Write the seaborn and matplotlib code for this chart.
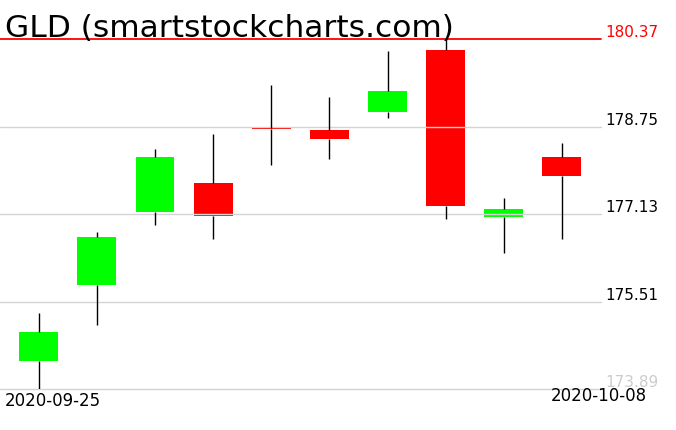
import numpy as np
import pandas as pd
import seaborn as sns
import matplotlib
matplotlib.use("Agg")
import matplotlib.pyplot as plt

# GLD daily candles
dates = ['2020-09-25', '2020-09-28', '2020-09-29', '2020-09-30', '2020-10-01',
         '2020-10-02', '2020-10-05', '2020-10-06', '2020-10-07', '2020-10-08']
opens = [174.40, 175.82, 177.17, 177.71, 178.72, 178.69, 179.01, 180.17, 177.08, 178.19]
highs = [175.30, 176.80, 178.33, 178.61, 179.51, 179.29, 180.15, 180.37, 177.43, 178.45]
lows = [173.89, 175.08, 176.93, 176.66, 178.03, 178.15, 178.90, 177.04, 176.41, 176.66]
closes = [174.94, 176.70, 178.19, 177.09, 178.70, 178.52, 179.41, 177.28, 177.23, 177.84]

price_ticks = [173.89, 175.51, 177.13, 178.75, 180.37]
title = "GLD (smartstockcharts.com)"

df = pd.DataFrame({'date': dates, 'open': opens, 'high': highs,
                   'low': lows, 'close': closes})
df['pos'] = np.arange(len(df))
df['up'] = df['close'] >= df['open']
df['body_lo'] = df[['open', 'close']].min(axis=1)
df['body_hi'] = df[['open', 'close']].max(axis=1)
df['body_h'] = df['body_hi'] - df['body_lo']

sns.set_style("white")
plt.rcParams['font.family'] = ['DejaVu Sans']

fig = plt.figure(figsize=(6.76, 4.31), dpi=100)
ax = fig.add_axes([0, 41 / 431, 600.7 / 676, 350 / 431])

# bodies (grid lines go over them)
colors = np.where(df['up'], '#00ff00', '#ff0000')
ax.bar(df['pos'], df['body_h'], bottom=df['body_lo'], width=0.67,
       color=colors, linewidth=0, zorder=1)

# wicks only outside the body, on top of the grid
ax.vlines(df['pos'], df['body_hi'], df['high'], color='black', lw=1, zorder=3)
ax.vlines(df['pos'], df['low'], df['body_lo'], color='black', lw=1, zorder=3)

ax.set_xlim(-2 / 3, len(df) - 1 + 2 / 3)
ax.set_ylim(price_ticks[0], price_ticks[-1])

# grid + right side price labels
ax.set_yticks(price_ticks)
ax.set_yticklabels([f"{t:.2f}" for t in price_ticks])
ax.yaxis.tick_right()
ax.tick_params(axis='y', length=0, pad=3, labelsize=11, labelcolor='black')
ax.set_xticks([])
ax.yaxis.grid(True, color='#d3d3d3', lw=1)
ax.set_axisbelow(False)
for gl in ax.yaxis.get_gridlines():
    gl.set_clip_on(False)
    gl.set_zorder(2)
top_line = ax.yaxis.get_gridlines()[-1]
top_line.set_color('#ff0000')
top_line.set_linewidth(1.3)
labels = ax.get_yticklabels()
for lab in labels:
    lab.set_verticalalignment('bottom')
labels[-1].set_color('#ff0000')
labels[0].set_color('#cccccc')
for s in ax.spines.values():
    s.set_visible(False)

fig.text(5 / 676, 1 - 37 / 431, title, fontsize=22.5, ha='left',
         va='baseline', color='black')
fig.text(5 / 676, 1 - 406 / 431, dates[0], fontsize=12, ha='left',
         va='baseline', color='black')
fig.text(647 / 676, 1 - 401 / 431, dates[-1], fontsize=12, ha='right',
         va='baseline', color='black')

fig.savefig("out.png", dpi=100)
